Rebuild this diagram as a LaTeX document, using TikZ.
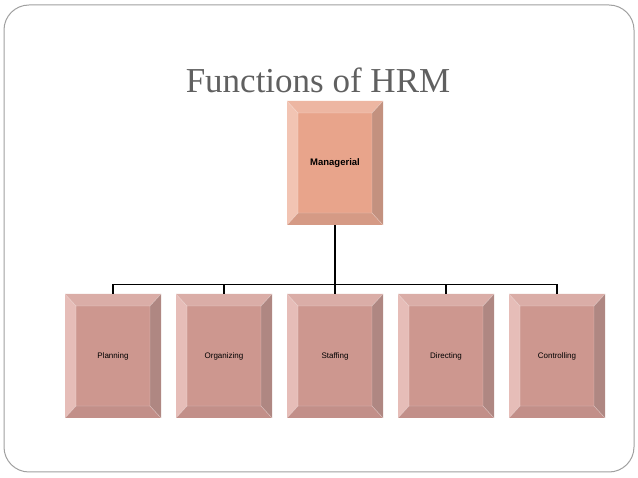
\documentclass[tikz,border=0pt]{standalone}
\usepackage{fontspec}
\setmainfont{Liberation Serif}
\setsansfont{Liberation Sans}
\definecolor{frame}{HTML}{A0A0A0}
\definecolor{titlec}{HTML}{606060}
\definecolor{mface}{HTML}{E8A48B}
\definecolor{mleft}{HTML}{F2C4B3}
\definecolor{mtop}{HTML}{EDB6A2}
\definecolor{mright}{HTML}{C3917F}
\definecolor{mbottom}{HTML}{D59A85}
\definecolor{cface}{HTML}{CD978F}
\definecolor{cleft}{HTML}{E6BDB8}
\definecolor{ctop}{HTML}{DAADA7}
\definecolor{cright}{HTML}{AF8782}
\definecolor{cbottom}{HTML}{C28F89}
\tikzset{
  bevelbox/.style n args={5}{
    minimum width=96pt, minimum height=124pt, inner sep=0pt, fill=#1,
    font=\sffamily\fontsize{8}{9}\selectfont,
    path picture={
      \fill[#2] (path picture bounding box.south west) -- (path picture bounding box.north west)
        -- ([xshift=11pt,yshift=-12pt]path picture bounding box.north west)
        -- ([xshift=11pt,yshift=12pt]path picture bounding box.south west) -- cycle;
      \fill[#3] (path picture bounding box.north west) -- (path picture bounding box.north east)
        -- ([xshift=-11pt,yshift=-12pt]path picture bounding box.north east)
        -- ([xshift=11pt,yshift=-12pt]path picture bounding box.north west) -- cycle;
      \fill[#4] (path picture bounding box.north east) -- (path picture bounding box.south east)
        -- ([xshift=-11pt,yshift=12pt]path picture bounding box.south east)
        -- ([xshift=-11pt,yshift=-12pt]path picture bounding box.north east) -- cycle;
      \fill[#5] (path picture bounding box.south east) -- (path picture bounding box.south west)
        -- ([xshift=11pt,yshift=12pt]path picture bounding box.south west)
        -- ([xshift=-11pt,yshift=12pt]path picture bounding box.south east) -- cycle;
      \draw[white, opacity=0.5, line width=0.4pt]
        (path picture bounding box.north west) -- ([xshift=11pt,yshift=-12pt]path picture bounding box.north west)
        (path picture bounding box.north east) -- ([xshift=-11pt,yshift=-12pt]path picture bounding box.north east)
        (path picture bounding box.south east) -- ([xshift=-11pt,yshift=12pt]path picture bounding box.south east)
        (path picture bounding box.south west) -- ([xshift=11pt,yshift=12pt]path picture bounding box.south west)
        ([xshift=11pt,yshift=12pt]path picture bounding box.south west) rectangle ([xshift=-11pt,yshift=-12pt]path picture bounding box.north east);
    }
  },
  mgr/.style={bevelbox={mface}{mleft}{mtop}{mright}{mbottom}, font=\sffamily\bfseries\fontsize{9.5}{11}\selectfont},
  child/.style={bevelbox={cface}{cleft}{ctop}{cright}{cbottom}},
  conn/.style={draw=black, line width=1.1pt}
}
\begin{document}
\begin{tikzpicture}[x=1pt,y=-1pt]
\useasboundingbox (0,0) rectangle (638,478);
\draw[frame, line width=1pt, rounded corners=25pt] (4,5) rectangle (634,472);
\node[anchor=base, text=titlec, font=\fontsize{35}{38}\selectfont] (title) at (318,93) {Functions of HRM};
\node[mgr] (m) at (335,163) {Managerial};
\node[child] (c1) at (113,356) {Planning};
\node[child] (c2) at (224,356) {Organizing};
\node[child] (c3) at (335,356) {Staffing};
\node[child] (c4) at (446,356) {Directing};
\node[child] (c5) at (557,356) {Controlling};
\foreach \c in {c1,c2,c3,c4,c5}{
  \draw[conn] (m.south) -- ++(0,59) -| (\c.north);
}
\end{tikzpicture}
\end{document}
